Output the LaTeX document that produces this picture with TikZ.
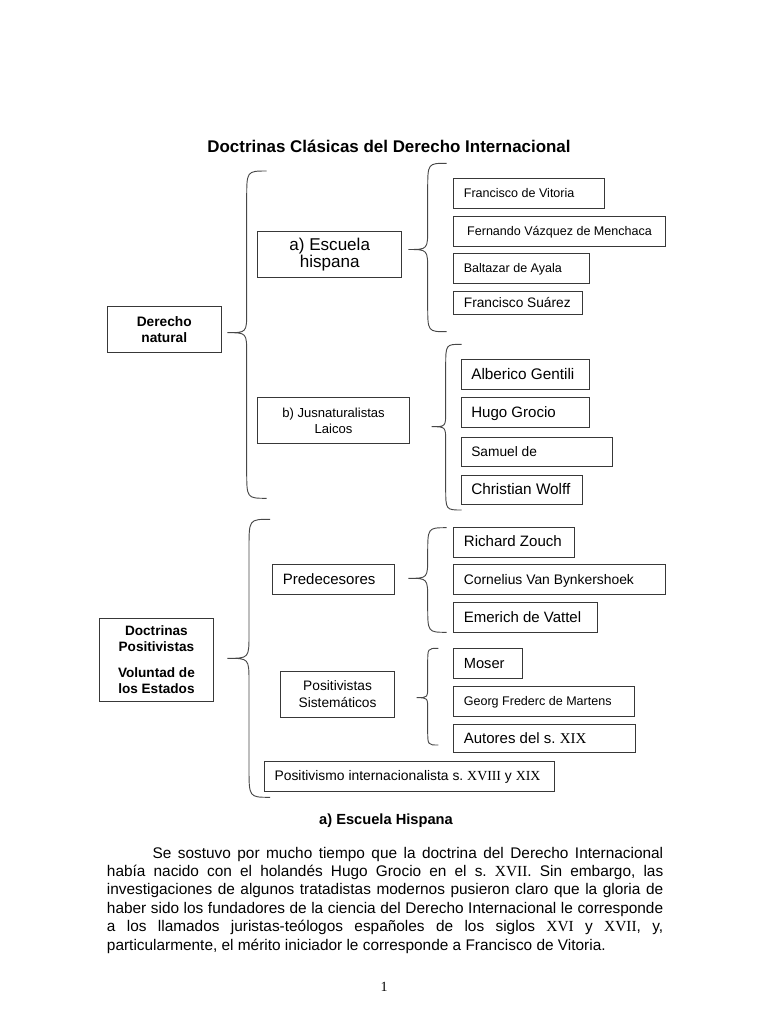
\documentclass[tikz,border=0pt]{standalone}
\usepackage{fontspec}
\setmainfont{Liberation Sans}
\newfontfamily\tms{Liberation Serif}
\newcommand\myfs[2]{\fontsize{#1pt}{#2pt}\selectfont}
\tikzset{
  boxst/.style={draw=black!78, line width=0.85pt, inner xsep=7.5pt, inner ysep=0pt, anchor=north west},
  bracest/.style={draw=black!72, line width=0.7pt},
  txt/.style={inner sep=0pt, anchor=base west},
}
% left-aligned box: name x1 y1 x2 y2 size text
\newcommand\lbox[7]{%
  \pgfmathsetmacro\myBW{(#4-#2)*0.75}%
  \pgfmathsetmacro\myBH{(#5-#3)*0.75}%
  \pgfmathsetmacro\myTW{(#4-#2)*0.75-15}%
  \pgfmathsetmacro\myTH{#6*0.74}%
  \pgfmathsetmacro\myTD{#6*0.12}%
  \node[boxst, minimum width=\myBW pt, minimum height=\myBH pt, text height=\myTH pt, text depth=\myTD pt, font={\myfs{#6}{#6}}] (#1) at (#2,#3) {\hbox to \myTW pt{#7\hfil}};
}
% centred box: name x1 y1 x2 y2 font text
\newcommand\cbox[7]{%
  \pgfmathsetmacro\myBW{(#4-#2)*0.75}%
  \pgfmathsetmacro\myBH{(#5-#3)*0.75}%
  \node[boxst, minimum width=\myBW pt, minimum height=\myBH pt, align=center, font={#6}] (#1) at (#2,#3) {#7};
}
% brace: xtip ytip xv xend ytop ybot
\newcommand\mybrace[6]{%
  \pgfmathsetmacro\myRA{min(1.4*(#4-#3),30)}%
  \pgfmathsetmacro\myRB{1.1*(#3-#1)}%
  \pgfmathsetmacro\myYA{#5+\myRA}%
  \pgfmathsetmacro\myYB{#2-\myRB}%
  \pgfmathsetmacro\myYC{#2+\myRB}%
  \pgfmathsetmacro\myYD{#6-\myRA}%
  \draw[bracest] (#4,#5) .. controls (#3,#5) .. (#3,\myYA) -- (#3,\myYB)
     .. controls (#3,#2) .. (#1,#2) .. controls (#3,#2) .. (#3,\myYC)
     -- (#3,\myYD) .. controls (#3,#6) .. (#4,#6);
}
\newcommand\jline[1]{\hbox to 417.2pt{#1}}
\frenchspacing
\begin{document}
\begin{tikzpicture}[x=0.75pt, y=-0.75pt]
\useasboundingbox (0,0) rectangle (768,1024);

% title
\node[font={\bfseries\myfs{12.7}{15}}, anchor=base, inner sep=0pt] (title) at (389,152.5) {Doctrinas Clásicas del Derecho Internacional};

% Derecho natural
\cbox{dn}{106.7}{306}{220.7}{351.7}{\bfseries\myfs{10.3}{12.2}}{Derecho\\natural}
\mybrace{227.3}{332.7}{246.7}{266.7}{171}{498.3}

\cbox{eh}{257.3}{230.7}{401}{276.7}{\myfs{12.8}{12.5}}{a) Escuela\\hispana}
\cbox{jl}{257.3}{397.3}{408.7}{442.7}{\myfs{9.8}{12.2}}{b) Jusnaturalistas\\Laicos}

\mybrace{408.3}{249.5}{427.7}{446.7}{163.3}{331.7}
\lbox{vit}{453.3}{178.3}{604}{208.3}{9.4}{Francisco de Vitoria}
\lbox{men}{453.3}{216}{665}{245.7}{9.4}{\hspace*{2.5pt}Fernando Vázquez de Menchaca}
\lbox{bal}{453.3}{253.3}{589.3}{283.3}{9.4}{Baltazar de Ayala}
\lbox{sua}{453.3}{291}{581.7}{314}{10.3}{Francisco Suárez}

\mybrace{431.7}{426.7}{445.7}{461.7}{344.3}{510}
\lbox{gen}{460.7}{359.3}{589.3}{389.3}{11.5}{Alberico Gentili}
\lbox{gro}{460.7}{397}{589.3}{427.3}{11.3}{Hugo Grocio}
\lbox{sam}{460.7}{437.3}{612}{465.7}{10.3}{Samuel de}
\lbox{wol}{460.7}{475}{581.7}{504}{11.5}{Christian Wolff}

% Doctrinas positivistas
\cbox{dp}{99}{617.7}{212.7}{701}{\bfseries\myfs{10.2}{12}}{Doctrinas\\Positivistas\\[7.2pt]Voluntad de\\los Estados}
\mybrace{227.3}{658.3}{249}{270}{519.3}{797.3}

\lbox{pre}{272.3}{564.3}{394}{594.3}{11.25}{Predecesores}
\cbox{ps}{280}{670.7}{394}{716.7}{\myfs{10.3}{12.5}}{Positivistas\\Sistemáticos}
\lbox{pos}{264}{761}{554}{791}{10.4}{Positivismo internacionalista s. {\tms XVIII} y {\tms XIX}}

\mybrace{408.3}{578.3}{427.7}{446.7}{527.7}{632.3}
\lbox{zou}{453.3}{526.7}{574.3}{556.7}{11.3}{Richard Zouch}
\lbox{cor}{453.3}{564.3}{665}{594.3}{10.4}{Cornelius Van Bynkershoek}
\lbox{vat}{453.3}{602.3}{596.7}{632.3}{11.25}{Emerich de Vattel}

\mybrace{416.7}{697.7}{427.7}{438.3}{648.3}{745}
\lbox{mos}{453.3}{647.7}{521.7}{678.3}{11}{Moser}
\lbox{geo}{453.3}{686}{634.3}{716}{9.4}{Georg Frederc de Martens}
\lbox{aut}{453.3}{724}{635}{751.7}{11.25}{Autores del s. {\tms XIX}}

% heading and paragraph
\node[font={\bfseries\myfs{11}{13}}, anchor=base, inner sep=0pt] (head) at (386,824.7) {a) Escuela Hispana};

\begin{scope}[font={\myfs{11.55}{13.8}}]
\node[txt] (l1) at (106.7,858) {\jline{\hspace*{34.2pt}Se sostuvo por mucho tiempo que la doctrina del Derecho Internacional}};
\node[txt] (l2) at (106.7,876.4) {\jline{había nacido con el holandés Hugo Grocio en el s. {\tms XVII}. Sin embargo, las}};
\node[txt] (l3) at (106.7,894.8) {\jline{investigaciones de algunos tratadistas modernos pusieron claro que la gloria de}};
\node[txt] (l4) at (106.7,913.2) {\jline{haber sido los fundadores de la ciencia del Derecho Internacional le corresponde}};
\node[txt] (l5) at (106.7,931.6) {\jline{a los llamados juristas-teólogos españoles de los siglos {\tms XVI} y {\tms XVII}, y,}};
\node[txt] (l6) at (106.7,950) {particularmente, el mérito iniciador le corresponde a Francisco de Vitoria.};
\end{scope}

\node[font={\tms\myfs{10.5}{12}}, anchor=base, inner sep=0pt] (pnum) at (384,991) {1};
\end{tikzpicture}
\end{document}
